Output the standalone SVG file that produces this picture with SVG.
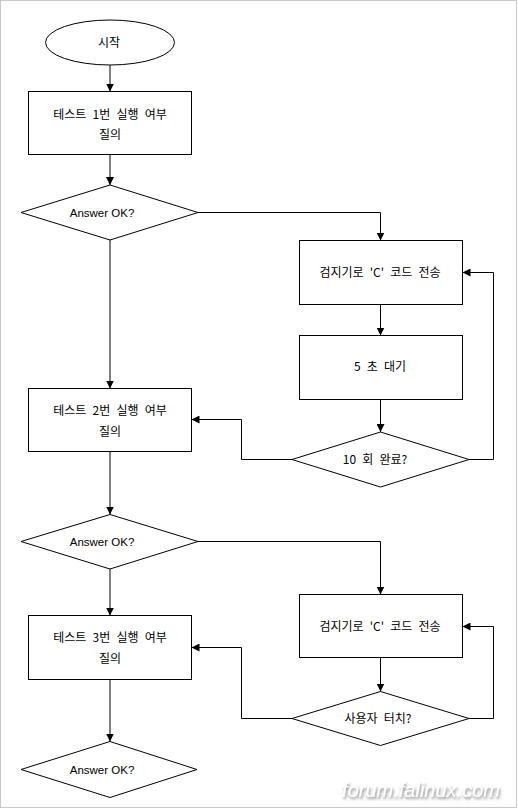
<svg xmlns="http://www.w3.org/2000/svg" width="518" height="809" viewBox="0 0 518 809">
<style>
.s{fill:#fff;stroke:#000;stroke-width:1}
.c{fill:none;stroke:#000;stroke-width:1}
.t{font-family:"Noto Sans CJK KR","Liberation Sans",sans-serif;font-size:12px;fill:#000;text-anchor:middle;word-spacing:3.5px}
.e{font-family:"Liberation Sans","Noto Sans CJK KR",sans-serif;font-size:11.5px;fill:#000;text-anchor:middle}
.w{font-family:"Liberation Sans",sans-serif;font-style:italic;font-size:20px;text-anchor:middle;fill:#fff}
</style>
<defs>
<marker id="a" viewBox="0 0 10 10" refX="10" refY="5" markerWidth="8" markerHeight="8" markerUnits="userSpaceOnUse" orient="auto">
<path d="M0,0 L10,5 L0,10 z" fill="#000"/>
</marker>
<filter id="b" x="-10%" y="-50%" width="120%" height="200%">
<feGaussianBlur in="SourceAlpha" stdDeviation="1.8" result="bl"/>
<feOffset in="bl" dx="1" dy="2" result="of"/>
<feFlood flood-color="#777"/>
<feComposite in2="of" operator="in" result="sh"/>
<feMerge><feMergeNode in="sh"/><feMergeNode in="SourceGraphic"/></feMerge>
</filter>
</defs>
<rect x="0.5" y="0.5" width="516" height="807" fill="#fff" stroke="#c8c8c8"/>
<g id="connectors">
<path class="c" d="M110,65 V91.5" marker-end="url(#a)"/>
<path class="c" d="M110,154.5 V185" marker-end="url(#a)"/>
<path class="c" d="M110,240 V388.5" marker-end="url(#a)"/>
<path class="c" d="M198,212.5 H380.5 V240.5" marker-end="url(#a)"/>
<path class="c" d="M380.5,304.5 V335.5" marker-end="url(#a)"/>
<path class="c" d="M380.5,399.5 V432" marker-end="url(#a)"/>
<path class="c" d="M469,459.5 H493.5 V272.5 H462.5" marker-end="url(#a)"/>
<path class="c" d="M292,459.5 H241.5 V419.5 H191.5" marker-end="url(#a)"/>
<path class="c" d="M110,451.5 V514.5" marker-end="url(#a)"/>
<path class="c" d="M198,541.5 H380.5 V594.5" marker-end="url(#a)"/>
<path class="c" d="M110,569 V615.5" marker-end="url(#a)"/>
<path class="c" d="M380.5,657.5 V691.5" marker-end="url(#a)"/>
<path class="c" d="M469,718.5 H493.5 V626.5 H462.5" marker-end="url(#a)"/>
<path class="c" d="M292,718.5 H241.5 V647.5 H191.5" marker-end="url(#a)"/>
<path class="c" d="M110,679.5 V741.5" marker-end="url(#a)"/>
</g>
<g id="start">
<ellipse class="s" cx="110" cy="42.5" rx="64.5" ry="22.5"/>
<text class="t" x="109" y="47">시작</text>
</g>
<g id="test1">
<rect class="s" x="28.5" y="91.5" width="163" height="63"/>
<text class="t" x="110" y="118.5">테스트 1번 실행 여부</text>
<text class="t" x="110" y="138.5">질의</text>
</g>
<g id="answer1">
<path class="s" d="M110,185 L198,212.5 L110,240 L21,212.5 z"/>
<text class="e" x="102" y="216.5">Answer OK?</text>
</g>
<g id="send1">
<rect class="s" x="299.5" y="240.5" width="163" height="64"/>
<text class="t" x="380" y="276.5">검지기로 'C' 코드 전송</text>
</g>
<g id="wait">
<rect class="s" x="299.5" y="335.5" width="163" height="64"/>
<text class="t" x="380" y="371">5 초 대기</text>
</g>
<g id="done10">
<path class="s" d="M380.5,432 L469,459.5 L380.5,487 L292,459.5 z"/>
<text class="t" x="375" y="463.5">10 회 완료?</text>
</g>
<g id="test2">
<rect class="s" x="28.5" y="388.5" width="163" height="63"/>
<text class="t" x="110" y="415">테스트 2번 실행 여부</text>
<text class="t" x="110" y="435.5">질의</text>
</g>
<g id="answer2">
<path class="s" d="M110,514.5 L198,541.5 L110,569 L21,541.5 z"/>
<text class="e" x="102" y="545.5">Answer OK?</text>
</g>
<g id="send2">
<rect class="s" x="299.5" y="594.5" width="163" height="63"/>
<text class="t" x="380" y="630.5">검지기로 'C' 코드 전송</text>
</g>
<g id="touch">
<path class="s" d="M380.5,691.5 L469,718.5 L380.5,745.5 L292,718.5 z"/>
<text class="t" x="378" y="723">사용자 터치?</text>
</g>
<g id="test3">
<rect class="s" x="28.5" y="615.5" width="163" height="64"/>
<text class="t" x="110" y="642">테스트 3번 실행 여부</text>
<text class="t" x="110" y="662.5">질의</text>
</g>
<g id="answer3">
<path class="s" d="M110,741.5 L197,769.5 L110,797.5 L21,769.5 z"/>
<text class="e" x="102" y="773.5">Answer OK?</text>
</g>
<g id="watermark">
<text class="w" x="421" y="797" filter="url(#b)">forum.falinux.com</text>
</g>
</svg>
